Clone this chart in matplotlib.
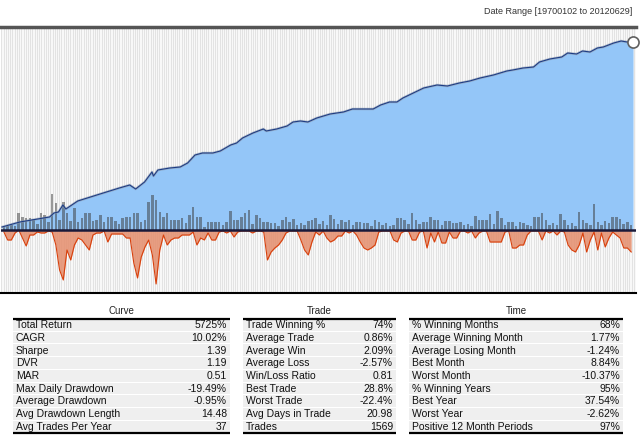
import numpy as np
import matplotlib as mpl
mpl.use('Agg')
import matplotlib.pyplot as plt
from matplotlib.patches import Rectangle

mpl.rcParams.update({
    "font.family": ["Liberation Sans Narrow", "Liberation Sans", "DejaVu Sans"],
    "font.size": 7,
})

# equity curve (chart units, zero line = 0)
eq_t = [1970.0, 1971.2, 1973.2, 1973.5, 1973.8, 1974.1, 1974.3, 1975.1, 1976.6,
        1977.9, 1978.6, 1979.0, 1979.6, 1980.1, 1980.2, 1980.5, 1981.3, 1982.0,
        1982.5, 1983.0, 1983.5, 1984.2, 1984.7, 1985.4, 1985.8, 1986.2, 1986.9,
        1987.6, 1987.8, 1988.5, 1989.2, 1989.6, 1990.1, 1990.6, 1991.2, 1992.1,
        1993.0, 1993.6, 1994.3, 1995.0, 1995.5, 1996.1, 1996.6, 1997.0, 1997.7,
        1998.4, 1999.3, 2000.0, 2000.8, 2001.5, 2002.2, 2003.1, 2004.0, 2004.4,
        2005.1, 2005.8, 2006.2, 2006.9, 2007.7, 2008.1, 2008.7, 2009.1, 2009.6,
        2010.1, 2010.5, 2011.2, 2011.7, 2012.1, 2012.5]
eq_v = [3, 8, 13, 17, 18, 25, 21, 29, 36,
        42, 45, 41, 48, 58, 54, 60, 62, 63,
        67, 75, 77, 77, 79, 85, 87, 92, 97,
        101, 99, 101, 104, 108, 109, 108, 112, 116,
        118, 121, 121, 121, 125, 128, 128, 132, 137,
        142, 145, 144, 147, 149, 152, 155, 159, 160,
        162, 163, 168, 171, 173, 177, 176, 179, 178,
        182, 183, 187, 189, 188, 188]

# quarterly return bars (1970Q1 .. 2012Q2)
bar_v = [3, 4, 5, 4, 17, 13, 12, 12, 11, 6,
         17, 15, 8, 36, 27, 10, 28, 17, 9, 22,
         8, 12, 17, 17, 9, 10, 15, 8, 13, 13,
         9, 6, 12, 13, 13, 17, 17, 8, 10, 28,
         35, 30, 18, 13, 17, 10, 10, 10, 12, 7,
         15, 23, 13, 13, 3, 8, 8, 8, 8, 5,
         8, 19, 10, 10, 13, 17, 20, 6, 15, 12,
         8, 8, 7, 7, 4, 10, 13, 8, 11, 5,
         7, 5, 9, 10, 12, 6, 9, 5, 15, 11,
         6, 10, 8, 10, 5, 8, 8, 7, 7, 4,
         10, 8, 5, 7, 4, 5, 12, 12, 10, 6,
         17, 10, 6, 8, 8, 13, 10, 10, 5, 9,
         9, 7, 7, 8, 5, 6, 4, 14, 10, 10,
         10, 16, 6, 19, 12, 5, 8, 8, 4, 8,
         7, 5, 4, 13, 13, 17, 10, 5, 7, 5,
         16, 10, 5, 7, 4, 18, 10, 7, 5, 26,
         8, 5, 9, 7, 13, 13, 11, 6, 8, 5]

# drawdown (chart units, below zero line)
dd_v = [-2, -10, -10, -3, 0, -8, -16, -5, -5, -2,
        -3, -3, -1, -2, -15, -40, -50, -20, -30, -15,
        -8, -10, -15, -20, -5, -3, -3, -1, -12, -4,
        -4, -4, -4, -8, -8, -33, -48, -27, -17, -10,
        -25, -54, -20, -5, -15, -10, -8, -8, -5, -5,
        -5, -2, -15, -8, -10, -3, -10, -10, -2, -1,
        -3, -1, -7, -2, -1, -1, -1, -3, -1, -1,
        -2, -30, -22, -18, -15, -10, -3, -1, -1, -1,
        -10, -20, -25, -12, -2, -5, -1, -8, -12, -10,
        -6, -6, -1, -3, -1, -5, -12, -18, -20, -18,
        -15, -2, -1, -1, -1, -10, -12, -3, -1, -1,
        -10, -10, -2, -1, -18, -3, -12, -2, -13, -13,
        -2, -8, -8, -1, -1, -3, -1, -8, -3, -1,
        -1, -12, -12, -12, -12, -2, -1, -18, -18, -15,
        -15, -5, -1, -1, -1, -10, -1, -3, -1, -5,
        -1, -2, -15, -20, -22, -15, -3, -22, -10, -2,
        -20, -3, -17, -8, -2, -5, -8, -18, -18, -22]

curve_labels = ["Total Return", "CAGR", "Sharpe", "DVR", "MAR", "Max Daily Drawdown",
                "Average Drawdown", "Avg Drawdown Length", "Avg Trades Per Year"]
curve_values = ["5725%", "10.02%", "1.39", "1.19", "0.51", "-19.49%", "-0.95%", "14.48", "37"]

trade_labels = ["Trade Winning %", "Average Trade", "Average Win", "Average Loss",
                "Win/Loss Ratio", "Best Trade", "Worst Trade", "Avg Days in Trade", "Trades"]
trade_values = ["74%", "0.86%", "2.09%", "-2.57%", "0.81", "28.8%", "-22.4%", "20.98", "1569"]

time_labels = ["% Winning Months", "Average Winning Month", "Average Losing Month",
               "Best Month", "Worst Month", "% Winning Years", "Best Year", "Worst Year",
               "Positive 12 Month Periods"]
time_values = ["68%", "1.77%", "-1.24%", "8.84%", "-10.37%", "95%", "37.54%", "-2.62%", "97%"]

W, H = 640, 436
fig = plt.figure(figsize=(W / 100, H / 100), dpi=100)
fig.patch.set_facecolor('white')

# main chart, placed in pixel terms
ax = fig.add_axes([1 / W, 1 - 293 / H, 635 / W, 266 / H])
ax.set_facecolor('#f8f8f8')
ax.set_xlim(1969.93, 2012.70)
ax.set_ylim(-63, 203)

for t in np.arange(1969.95, 2012.7, 0.15):
    ax.axvline(t, color='#e0e0e0', lw=0.6, zorder=0)

ax.fill_between(eq_t, eq_v, 0, color='#94c6f8', lw=0, zorder=1)
ax.plot(eq_t, eq_v, color='#8a9ab0', lw=1.8, alpha=0.6, zorder=4)
ax.plot(eq_t, eq_v, color='#1d3c84', lw=0.8, zorder=4)

q_t = 1970.125 + 0.25 * np.arange(len(bar_v))
ax.bar(q_t, bar_v, width=0.17, bottom=0, color='#3a3a3a', alpha=0.5, lw=0, zorder=3)

ax.fill_between(q_t, dd_v, 0, color='#e58d6c', alpha=0.85, lw=0, zorder=2)
ax.plot(q_t, dd_v, color='#d8400c', lw=0.8, zorder=2)

ax.axhline(0, color='#1a1a3a', lw=1.8, zorder=5)
ax.plot([eq_t[-1]], [eq_v[-1]], 'o', ms=8, mfc='white', mec='#606060', mew=1.2,
        zorder=6, clip_on=False)

for s in ['left', 'right']:
    ax.spines[s].set_visible(False)
ax.spines['top'].set_color('#555555')
ax.spines['top'].set_linewidth(2.5)
ax.spines['bottom'].set_color('black')
ax.spines['bottom'].set_linewidth(1.5)
ax.set_xticks([])
ax.set_yticks([])

# overlay in pixel coordinates for text and tables
ov = fig.add_axes([0, 0, 1, 1], zorder=10)
ov.set_xlim(0, W)
ov.set_ylim(H, 0)
ov.axis('off')
ov.patch.set_alpha(0)

ov.text(632, 12, "Date Range [19700102 to 20120629]", ha='right', va='center',
        fontsize=6.5, color='#333333')


def draw_table(x0, x1, title, labels, values):
    top, bot = 318.5, 433
    rh = (bot - top) / len(labels)
    ov.text((x0 + x1) / 2, 311, title, ha='center', va='center', fontsize=7, color='#222222')
    for i, (lab, val) in enumerate(zip(labels, values)):
        y = top + i * rh
        ov.add_patch(Rectangle((x0, y + 0.5), x1 - x0, rh - 1, facecolor='#efefef',
                               edgecolor='none'))
        ov.text(x0 + 3, y + rh / 2 + 0.3, lab, ha='left', va='center', fontsize=7.5,
                color='#111111')
        ov.text(x1 - 3, y + rh / 2 + 0.3, val, ha='right', va='center', fontsize=7.5,
                color='#111111')
    ov.plot([x0, x1], [top, top], color='black', lw=1.6, solid_capstyle='butt')
    ov.plot([x0, x1], [bot, bot], color='black', lw=1.6, solid_capstyle='butt')


draw_table(13, 230, "Curve", curve_labels, curve_values)
draw_table(243, 396, "Trade", trade_labels, trade_values)
draw_table(409, 623, "Time", time_labels, time_values)

fig.savefig('out.png', dpi=100)
